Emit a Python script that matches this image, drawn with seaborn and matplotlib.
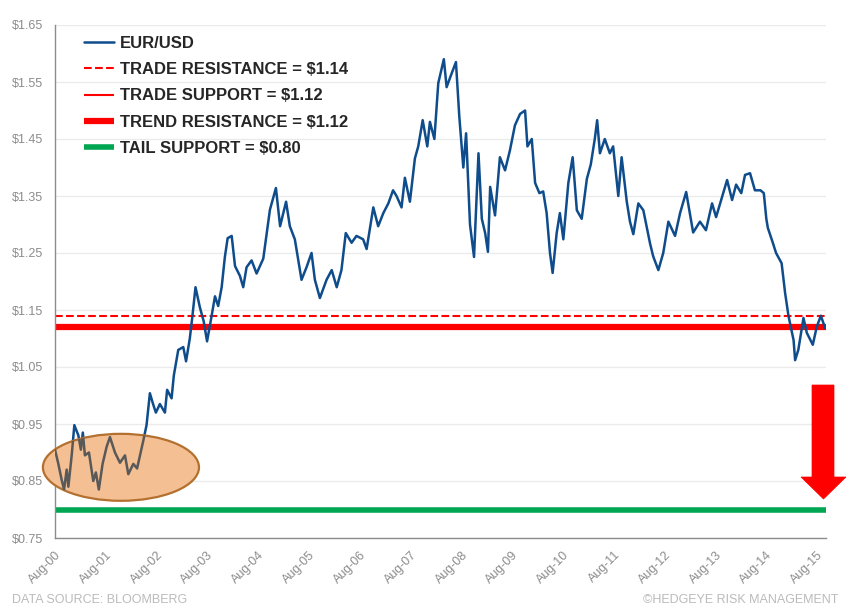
import matplotlib
matplotlib.use('Agg')
import matplotlib.pyplot as plt
import matplotlib.dates as mdates
from matplotlib.patches import Ellipse, Polygon
import seaborn as sns
import pandas as pd

# EUR/USD
dates = [
    '2000-08-01', '2000-08-25', '2000-09-18', '2000-10-05', '2000-10-24', '2000-11-05', '2000-11-29', '2000-12-18',
    '2001-01-16', '2001-02-03', '2001-02-17', '2001-03-04', '2001-04-02', '2001-05-03', '2001-05-22', '2001-06-12',
    '2001-07-09', '2001-08-07', '2001-08-31', '2001-10-06', '2001-11-11', '2001-12-17', '2002-01-10', '2002-02-15',
    '2002-03-14', '2002-04-27', '2002-05-21', '2002-06-14', '2002-07-07', '2002-07-27', '2002-08-25', '2002-09-30',
    '2002-10-16', '2002-11-17', '2002-12-03', '2003-01-04', '2003-02-09', '2003-03-01', '2003-03-28', '2003-04-16',
    '2003-05-08', '2003-06-08', '2003-07-06', '2003-07-30', '2003-09-01', '2003-09-25', '2003-10-18', '2003-11-12',
    '2003-12-05', '2003-12-25', '2004-01-23', '2004-02-16', '2004-03-22', '2004-04-15', '2004-05-09', '2004-06-14',
    '2004-07-20', '2004-09-06', '2004-10-24', '2004-12-06', '2005-01-05', '2005-02-17', '2005-03-16', '2005-04-21',
    '2005-06-08', '2005-07-14', '2005-08-19', '2005-09-12', '2005-10-18', '2005-12-05', '2006-01-11', '2006-02-16',
    '2006-03-22', '2006-04-22', '2006-06-03', '2006-07-08', '2006-08-25', '2006-09-19', '2006-11-06', '2006-12-11',
    '2007-01-17', '2007-02-22', '2007-03-28', '2007-04-22', '2007-05-28', '2007-06-21', '2007-07-27', '2007-09-01',
    '2007-09-25', '2007-10-27', '2007-11-29', '2007-12-18', '2008-01-19', '2008-02-16', '2008-03-27', '2008-04-16',
    '2008-05-22', '2008-06-22', '2008-07-16', '2008-08-14', '2008-09-03', '2008-10-01', '2008-10-30', '2008-12-01',
    '2008-12-25', '2009-01-18', '2009-02-07', '2009-02-23', '2009-03-30', '2009-05-04', '2009-06-10', '2009-07-15',
    '2009-08-20', '2009-09-26', '2009-11-01', '2009-11-18', '2009-12-19', '2010-01-12', '2010-02-12', '2010-03-11',
    '2010-04-05', '2010-04-29', '2010-05-18', '2010-06-16', '2010-07-09', '2010-08-03', '2010-09-08', '2010-10-09',
    '2010-11-08', '2010-12-13', '2011-01-19', '2011-02-16', '2011-03-17', '2011-04-03', '2011-04-23', '2011-05-28',
    '2011-07-03', '2011-07-27', '2011-09-02', '2011-09-26', '2011-11-02', '2011-11-25', '2011-12-19', '2012-01-24',
    '2012-02-29', '2012-04-17', '2012-05-10', '2012-06-16', '2012-07-21', '2012-08-27', '2012-10-14', '2012-11-19',
    '2013-01-02', '2013-02-21', '2013-04-11', '2013-05-24', '2013-07-07', '2013-08-05', '2013-09-03', '2013-10-01',
    '2013-10-23', '2013-11-28', '2013-12-27', '2014-02-02', '2014-03-01', '2014-04-06', '2014-05-11', '2014-06-20',
    '2014-07-14', '2014-08-01', '2014-08-12', '2014-09-14', '2014-10-10', '2014-11-19', '2014-12-14', '2015-01-07',
    '2015-02-13', '2015-02-24', '2015-03-19', '2015-04-25', '2015-05-19', '2015-07-01', '2015-07-29', '2015-08-28',
    '2015-09-28',
]
eurusd = [
    0.905, 0.880, 0.852, 0.835, 0.870, 0.840, 0.895, 0.948,
    0.930, 0.905, 0.935, 0.895, 0.900, 0.850, 0.865, 0.835,
    0.880, 0.910, 0.927, 0.900, 0.882, 0.895, 0.862, 0.880,
    0.872, 0.920, 0.948, 1.004, 0.985, 0.970, 0.985, 0.970,
    1.010, 0.995, 1.035, 1.080, 1.085, 1.060, 1.100, 1.140,
    1.190, 1.155, 1.130, 1.095, 1.140, 1.174, 1.157, 1.190,
    1.243, 1.276, 1.280, 1.227, 1.210, 1.190, 1.225, 1.237,
    1.214, 1.240, 1.326, 1.364, 1.297, 1.340, 1.297, 1.274,
    1.203, 1.225, 1.250, 1.203, 1.171, 1.203, 1.220, 1.190,
    1.220, 1.285, 1.268, 1.280, 1.274, 1.257, 1.330, 1.297,
    1.320, 1.337, 1.360, 1.350, 1.330, 1.382, 1.340, 1.416,
    1.437, 1.483, 1.437, 1.480, 1.450, 1.548, 1.590, 1.541,
    1.565, 1.585, 1.490, 1.400, 1.460, 1.300, 1.243, 1.425,
    1.310, 1.285, 1.252, 1.366, 1.316, 1.418, 1.395, 1.430,
    1.474, 1.494, 1.500, 1.437, 1.450, 1.373, 1.355, 1.358,
    1.320, 1.250, 1.215, 1.285, 1.320, 1.274, 1.373, 1.418,
    1.325, 1.310, 1.380, 1.405, 1.450, 1.483, 1.425, 1.450,
    1.425, 1.437, 1.350, 1.418, 1.340, 1.305, 1.283, 1.337,
    1.325, 1.267, 1.244, 1.220, 1.250, 1.305, 1.280, 1.320,
    1.357, 1.286, 1.305, 1.290, 1.337, 1.313, 1.337, 1.360,
    1.378, 1.343, 1.370, 1.355, 1.387, 1.390, 1.360, 1.360,
    1.355, 1.310, 1.294, 1.270, 1.250, 1.232, 1.180, 1.140,
    1.097, 1.062, 1.080, 1.136, 1.110, 1.089, 1.120, 1.140,
    1.118,
]

level_labels = ['TRADE RESISTANCE = $1.14', 'TRADE SUPPORT = $1.12',
                'TREND RESISTANCE = $1.12', 'TAIL SUPPORT = $0.80']
level_values = [1.14, 1.12, 1.12, 0.80]
level_colors = ['#FF0000', '#FF0000', '#FF0000', '#00A651']
level_widths = [1.5, 1.5, 4.5, 4.0]
level_styles = ['--', '-', '-', '-']

yticks = [0.75, 0.85, 0.95, 1.05, 1.15, 1.25, 1.35, 1.45, 1.55, 1.65]
xtick_years = list(range(2000, 2016))

df = pd.DataFrame({'date': pd.to_datetime(dates), 'eurusd': eurusd})

sns.set_style('white')
plt.rcParams['font.family'] = ['Liberation Sans', 'DejaVu Sans']

fig = plt.figure(figsize=(8.49, 6.08), dpi=100)
ax = fig.add_axes([55 / 849, 1 - 538 / 608, (826 - 55) / 849, (538 - 25) / 608])

blue = '#0F4C8C'
sns.lineplot(data=df, x='date', y='eurusd', ax=ax, color=blue, lw=1.8, zorder=3, label='EUR/USD')

for lab, val, col, w, st in zip(level_labels, level_values, level_colors, level_widths, level_styles):
    ax.axhline(val, color=col, lw=w, ls=st, zorder=2, label=lab, solid_capstyle='butt')

# orange ellipse over 2000-2002, line inside it shown grey
ell = Ellipse((mdates.date2num(pd.Timestamp('2001-11-18')), 0.874), width=1122, height=0.1175,
              facecolor='#F3BF93', edgecolor='#B4702F', lw=1.6, zorder=4, clip_on=False)
ax.add_patch(ell)
grey, = ax.plot(df['date'], df['eurusd'], color='#595959', lw=1.8, zorder=5)
grey.set_clip_path(ell)

ax.set_xlim(pd.Timestamp('2000-08-01'), pd.Timestamp('2015-10-04'))
ax.set_ylim(0.75, 1.65)
ax.set_yticks(yticks)
ax.set_yticklabels(['${:.2f}'.format(v) for v in yticks])
xt = [pd.Timestamp(f'{y}-08-01') for y in xtick_years]
ax.set_xticks(xt)
ax.set_xticklabels([f'Aug-{str(y)[2:]}' for y in xtick_years], rotation=45, ha='right',
                   va='top', rotation_mode='anchor')
ax.set_xlabel('')
ax.set_ylabel('')

ax.grid(axis='y', color='#EBEBEB', lw=1, zorder=0)
ax.set_axisbelow(True)
for s in ['top', 'right']:
    ax.spines[s].set_visible(False)
for s in ['left', 'bottom']:
    ax.spines[s].set_color('#8C8C8C')
    ax.spines[s].set_linewidth(1)
ax.tick_params(axis='both', colors='#8C8C8C', labelcolor='#8C8C8C', labelsize=9, length=5, width=1)
ax.tick_params(axis='x', pad=3)

handles, labels = ax.get_legend_handles_labels()
leg = ax.legend(handles[:5], labels[:5], loc='upper left', bbox_to_anchor=(0.037, 0.979),
                frameon=False, prop={'weight': 'bold', 'size': 12}, labelcolor='#262626',
                handlelength=1.8, handletextpad=0.4, labelspacing=0.68, borderaxespad=0, borderpad=0)

# red down arrow at the right
pts = [(812, 385), (834, 385), (834, 477), (846, 477), (823.5, 499), (801, 477), (812, 477)]
arrow = Polygon([(x / 849, 1 - y / 608) for x, y in pts], closed=True, transform=fig.transFigure,
                facecolor='#FF0000', edgecolor='#FF0000', lw=0.5)
fig.patches.append(arrow)

fig.text(12 / 849, 1 - 600 / 608, 'DATA SOURCE: BLOOMBERG', color='#BBBBBB', fontsize=9, va='center', ha='left')
fig.text(838 / 849, 1 - 600 / 608, '\u00a9HEDGEYE RISK MANAGEMENT', color='#BBBBBB', fontsize=9, va='center', ha='right')

fig.savefig('out.png', dpi=100)
